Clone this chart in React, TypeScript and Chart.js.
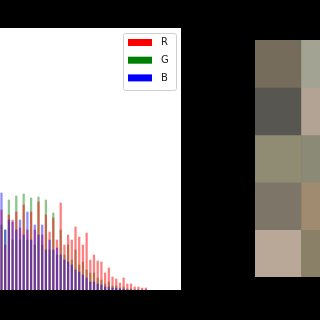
import React, { useEffect, useRef } from "react";
import { Chart, registerables } from "chart.js";

Chart.register(...registerables);

// Histogram bins (intensity levels) and counts per channel
const bins = [0, 1, 2, 3, 4, 5, 6, 7, 8, 9, 10, 11, 12, 13, 14, 15, 16, 17, 18, 19, 20, 21, 22, 23, 24, 25, 26, 27, 28, 29, 30, 31, 32, 33, 34, 35, 36, 37, 38, 39];
const redCounts = [80, 45, 75, 70, 78, 62, 85, 60, 78, 60, 88, 55, 75, 58, 72, 50, 87, 45, 55, 50, 63, 53, 45, 57, 30, 35, 29, 28, 17, 22, 13, 11, 7, 12, 6, 6, 3, 3, 2, 2];
const greenCounts = [65, 60, 90, 50, 94, 50, 96, 50, 92, 45, 93, 45, 90, 40, 77, 35, 60, 35, 45, 30, 40, 25, 28, 20, 17, 17, 12, 10, 6, 8, 4, 4, 2, 3, 1, 1, 0, 0, 0, 0];
const blueCounts = [97, 60, 70, 68, 60, 70, 55, 78, 50, 65, 55, 65, 40, 50, 40, 42, 35, 30, 28, 25, 20, 18, 15, 12, 8, 8, 6, 5, 3, 3, 2, 2, 1, 1, 0, 0, 0, 0, 0, 0];

const seriesLabels = ["R", "G", "B"];
const seriesColors = ["#ff0000", "#008000", "#0000ff"];
const seriesFills = ["rgba(255,0,0,0.5)", "rgba(0,128,0,0.45)", "rgba(0,0,255,0.45)"];
const drawOrder = [2, 3, 1];

// Colour patches (image rows, visible columns)
const patchColumns = ["c1", "c2"];
const patchRow1 = ["#766c5c", "#a3a394"];
const patchRow2 = ["#585650", "#b2a394"];
const patchRow3 = ["#8f8c73", "#8a8a76"];
const patchRow4 = ["#7d7668", "#a08a70"];
const patchRow5 = ["#b9a898", "#8a8068"];
const patchRows = [patchRow1, patchRow2, patchRow3, patchRow4, patchRow5];

const areaBg = {
  id: "areaBg",
  beforeDraw(chart: any) {
    const { ctx, chartArea: a } = chart;
    ctx.save();
    ctx.fillStyle = "#ffffff";
    ctx.fillRect(a.left, a.top, a.right - a.left, a.bottom - a.top);
    ctx.restore();
  },
};

const insideLegend = {
  id: "insideLegend",
  afterDraw(chart: any) {
    const { ctx, chartArea: a } = chart;
    const w = 53;
    const h = 57;
    const x = a.right - 5 - w;
    const y = a.top + 5;
    ctx.save();
    ctx.fillStyle = "rgba(255,255,255,0.8)";
    ctx.strokeStyle = "#d0d0d0";
    ctx.lineWidth = 1;
    ctx.beginPath();
    (ctx as any).roundRect(x + 0.5, y + 0.5, w, h, 2);
    ctx.fill();
    ctx.stroke();
    ctx.font = "10px 'DejaVu Sans'";
    ctx.textBaseline = "middle";
    chart.data.datasets.forEach((ds: any, i: number) => {
      const ry = y + 6 + i * 17.7;
      ctx.fillStyle = ds.legendColor;
      ctx.fillRect(x + 5, ry, 24, 7);
      ctx.fillStyle = "#222";
      ctx.fillText(ds.label, x + 38, ry + 3.8);
    });
    ctx.restore();
  },
};

export default function App() {
  const histRef = useRef<HTMLCanvasElement>(null);
  const patchRef = useRef<HTMLCanvasElement>(null);

  useEffect(() => {
    const counts = [redCounts, greenCounts, blueCounts];
    const hist = new Chart(histRef.current!, {
      type: "bar",
      data: {
        datasets: counts.map((c, i) => ({
          label: seriesLabels[i],
          data: bins.map((b, j) => ({ x: b, y: c[j] })),
          backgroundColor: seriesFills[i],
          legendColor: seriesColors[i],
          borderWidth: 0,
          barThickness: 1.6,
          grouped: false,
          order: drawOrder[i],
        })) as any,
      },
      options: {
        animation: false,
        responsive: false,
        maintainAspectRatio: false,
        layout: { padding: { left: 0, right: 139, top: 28, bottom: 30 } },
        plugins: { legend: { display: false }, tooltip: { enabled: false } },
        scales: {
          x: { type: "linear", min: -0.4, max: 48.5, offset: false, display: false },
          y: { min: 0, max: 262, display: false },
        },
      },
      plugins: [areaBg, insideLegend],
    });

    const patches = new Chart(patchRef.current!, {
      type: "bar",
      data: {
        labels: patchColumns,
        datasets: patchRows.map((row, i) => ({
          label: "row" + (i + 1),
          data: row.map(() => 1),
          backgroundColor: row,
          borderWidth: 0,
          barPercentage: 1,
          categoryPercentage: 1,
        })),
      },
      options: {
        animation: false,
        responsive: false,
        maintainAspectRatio: false,
        layout: { padding: 0 },
        plugins: { legend: { display: false }, tooltip: { enabled: false } },
        scales: {
          x: { stacked: true, display: false },
          y: { stacked: true, min: 0, max: 5, reverse: true, display: false },
        },
      },
    });

    return () => {
      hist.destroy();
      patches.destroy();
    };
  }, []);

  return (
    <div
      style={{
        position: "fixed",
        left: 0,
        top: 0,
        width: 320,
        height: 320,
        background: "#000",
        overflow: "hidden",
      }}
    >
      <canvas
        ref={histRef}
        width={320}
        height={320}
        style={{ position: "absolute", left: 0, top: 0, width: 320, height: 320 }}
      />
      <canvas
        ref={patchRef}
        width={93}
        height={237}
        style={{ position: "absolute", left: 255, top: 40, width: 93, height: 237 }}
      />
    </div>
  );
}
